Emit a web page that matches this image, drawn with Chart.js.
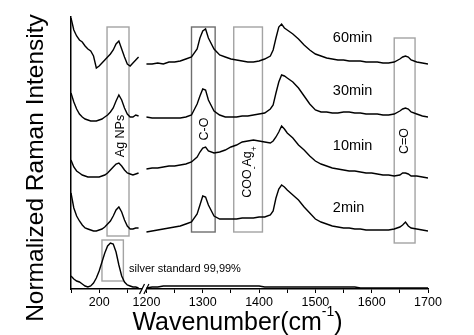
<!DOCTYPE html>
<html>
<head>
<meta charset="utf-8">
<script src="https://cdn.jsdelivr.net/npm/chart.js@4.4.1/dist/chart.umd.min.js"></script>
<style>
  html, body { margin: 0; padding: 0; background: #fff; }
  #wrap { width: 474px; height: 335px; }
</style>
</head>
<body>
<div id="wrap"><canvas id="ramanChart" width="474" height="335"></canvas></div>
<script>
// Raman shift samples (cm-1): low-frequency window and fingerprint window
const lowShift = [150, 155, 160, 165, 170, 175, 180, 185, 190, 195,
                  200, 205, 210, 215, 220, 225, 230, 235, 240, 245,
                  250, 255, 260, 265, 270];
const highShift = [1200, 1210, 1220, 1230, 1240, 1250, 1260, 1270, 1280, 1290,
                   1295, 1300, 1305, 1310, 1320, 1330, 1340, 1350, 1360, 1370,
                   1380, 1390, 1400, 1410, 1420, 1425, 1430, 1435, 1440, 1445,
                   1450, 1460, 1470, 1480, 1490, 1500, 1510, 1520, 1530, 1540,
                   1550, 1560, 1570, 1580, 1590, 1600, 1610, 1620, 1630, 1640,
                   1650, 1655, 1660, 1665, 1670, 1680, 1690, 1700];

// stacked, normalized intensities (arb. units)
const min60Low = [271, 259, 253, 249, 247, 243, 240, 238, 233, 221,
                  223, 226, 229, 232, 235, 239, 245, 248, 240, 232,
                  225, 223, 226, 229, 232];
const min60High = [225, 225, 226, 225, 227, 227, 228, 230, 232, 240,
                   251, 258, 260, 251, 240, 234, 232, 230, 229, 228,
                   227, 227, 228, 230, 233, 239, 251, 262, 265, 261,
                   259, 255, 250, 244, 239, 235, 233, 231, 230, 229,
                   229, 228, 228, 228, 227, 227, 227, 226, 226, 227,
                   230, 232, 233, 232, 229, 227, 226, 225];

const min30Low = [196, 187, 180, 175, 172, 170, 169, 168, 168, 168,
                  169, 170, 172, 174, 177, 181, 188, 194, 189, 181,
                  175, 172, 172, 174, 173];
const min30High = [172, 171, 171, 171, 171, 171, 171, 172, 174, 185,
                   193, 200, 199, 189, 178, 174, 172, 172, 172, 173,
                   173, 174, 175, 176, 180, 184, 196, 207, 214, 213,
                   211, 207, 201, 193, 185, 179, 177, 177, 176, 176,
                   177, 177, 176, 176, 175, 175, 175, 174, 174, 175,
                   178, 180, 181, 180, 177, 175, 173, 172];

const min10Low = [129, 122, 118, 116, 114, 113, 112, 112, 112, 112,
                  112, 113, 114, 116, 119, 122, 125, 126, 123, 119,
                  116, 115, 114, 115, 116];
const min10High = [120, 121, 121, 122, 123, 123, 124, 125, 127, 132,
                   137, 141, 142, 138, 136, 137, 139, 142, 144, 147,
                   148, 149, 148, 147, 146, 148, 152, 157, 163, 160,
                   156, 151, 144, 139, 133, 128, 125, 123, 121, 120,
                   119, 118, 118, 117, 116, 116, 115, 114, 114, 113,
                   114, 116, 116, 115, 113, 113, 112, 111];

const min2Low = [96, 81, 73, 68, 64, 61, 60, 59, 58, 58,
                 59, 60, 62, 65, 68, 73, 79, 82, 77, 69,
                 63, 60, 60, 61, 61];
const min2High = [57, 58, 59, 60, 61, 62, 63, 65, 67, 75,
                  84, 93, 92, 84, 73, 70, 70, 70, 70, 71,
                  71, 71, 72, 72, 74, 78, 91, 100, 104, 102,
                  99, 94, 89, 82, 76, 70, 67, 65, 63, 62,
                  61, 61, 60, 60, 59, 59, 59, 59, 59, 60,
                  62, 64, 67, 63, 61, 60, 59, 58];

const silverLow = [13, 10, 8, 7, 5, 3, 2, 3, 6, 11,
                   18, 27, 36, 43, 46, 45, 37, 24, 13, 7,
                   4, 3, 2, 2, 1];
const silverHigh = [1, 2, 2, 3, 3, 3, 3, 3, 3, 3,
                    3, 3, 3, 3, 3, 3, 3, 3, 3, 3,
                    3, 3, 3, 2, 2, 2, 2, 2, 2, 2,
                    2, 2, 2, 2, 2, 2, 2, 2, 2, 2,
                    2, 2, 2, 1, 1, 1, 1, 1, 1, 1,
                    1, 1, 1, 1, 1, 1, 1, 1];

const timeLabels = ['60min', '30min', '10min', '2min'];
const timeLevels = [251, 198, 143, 81];

const tickShifts = [150, 200, 250, 1200, 1250, 1300, 1350, 1400, 1450, 1500, 1550, 1600, 1650, 1700];
const labelledShifts = [200, 1200, 1300, 1400, 1500, 1600, 1700];

// broken x axis: 150-276 and 1200-1700 share one linear scale
const BREAK_LOW = 276, BREAK_HIGH = 1200, BREAK_GAP = 8;
function axisPos(w) {
    return w <= BREAK_LOW ? w : w - BREAK_HIGH + BREAK_LOW + BREAK_GAP;
}
function shiftFromPos(v) {
    return v <= BREAK_LOW ? v : v + BREAK_HIGH - BREAK_LOW - BREAK_GAP;
}

function buildSeries(low, high) {
    const pts = lowShift.map((w, i) => ({ x: axisPos(w), y: low[i] }));
    pts.push({ x: BREAK_LOW + BREAK_GAP / 2, y: null });
    highShift.forEach((w, i) => pts.push({ x: axisPos(w), y: high[i] }));
    return pts;
}

// marker boxes and their captions
const bands = [
    { from: 214, to: 253, low: 53, high: 262, color: '#a3a3a3', text: 'Ag NPs', at: [238, 153] },
    { from: 205, to: 243, low: 8, high: 49, color: '#a3a3a3' },
    { from: 1280, to: 1322, low: 57, high: 262, color: '#6e6e6e', text: 'C-O', at: [1303, 160] },
    { from: 1355, to: 1406, low: 57, high: 262, color: '#a3a3a3', text: 'COO|-|Ag|+', at: [1380, 117] },
    { from: 1640, to: 1677, low: 46, high: 251, color: '#a3a3a3', text: 'C=O', at: [1659, 148] }
];

const FONT = '"Liberation Sans", Arial, sans-serif';
Chart.defaults.font.family = FONT;

// draws a rotated caption; pieces between '|' alternate body / small side marks
function drawVertical(ctx, text, px, py) {
    const parts = text.split('|');
    ctx.save();
    ctx.translate(px, py);
    ctx.rotate(-Math.PI / 2);
    ctx.textBaseline = 'middle';
    const sizes = parts.map((p, i) => (i % 2 ? 8.5 : 12.5));
    let total = 0;
    parts.forEach((p, i) => { ctx.font = sizes[i] + 'px ' + FONT; total += ctx.measureText(p).width; });
    let cx = -total / 2;
    parts.forEach((p, i) => {
        ctx.font = sizes[i] + 'px ' + FONT;
        ctx.textAlign = 'left';
        ctx.fillText(p, cx, i % 2 ? 7 : 0);
        cx += ctx.measureText(p).width;
    });
    ctx.restore();
}

const annotations = {
    id: 'annotations',
    beforeDatasetsDraw(chart) {
        const { ctx, scales: { x, y } } = chart;
        ctx.save();
        ctx.lineWidth = 1.4;
        bands.forEach(b => {
            const x0 = x.getPixelForValue(axisPos(b.from));
            const x1 = x.getPixelForValue(axisPos(b.to));
            const y0 = y.getPixelForValue(b.high);
            const y1 = y.getPixelForValue(b.low);
            ctx.strokeStyle = b.color;
            ctx.strokeRect(x0, y0, x1 - x0, y1 - y0);
        });
        ctx.restore();
    },
    afterDraw(chart) {
        const { ctx, chartArea, scales: { x, y } } = chart;
        ctx.save();
        ctx.fillStyle = '#000';

        bands.filter(b => b.text).forEach(b => {
            drawVertical(ctx, b.text, x.getPixelForValue(axisPos(b.at[0])), y.getPixelForValue(b.at[1]));
        });

        ctx.font = '14.5px ' + FONT;
        ctx.textAlign = 'left';
        ctx.textBaseline = 'middle';
        timeLabels.forEach((t, i) => {
            ctx.fillText(t, x.getPixelForValue(axisPos(1531)), y.getPixelForValue(timeLevels[i]));
        });

        ctx.font = '11px ' + FONT;
        ctx.fillText('silver standard 99,99%', x.getPixelForValue(axisPos(253)), y.getPixelForValue(20));

        // axis break marks
        const bx = (x.getPixelForValue(axisPos(BREAK_LOW)) + x.getPixelForValue(axisPos(BREAK_HIGH))) / 2;
        const by = chartArea.bottom;
        ctx.fillStyle = '#fff';
        ctx.fillRect(bx - 2, by - 2, 4, 4);
        ctx.strokeStyle = '#000';
        ctx.lineWidth = 1.2;
        [-2.2, 2.2].forEach(dx => {
            ctx.beginPath();
            ctx.moveTo(bx + dx - 2.5, by + 5);
            ctx.lineTo(bx + dx + 2.5, by - 5);
            ctx.stroke();
        });

        // axis titles
        ctx.fillStyle = '#000';
        ctx.save();
        ctx.translate(chartArea.left - 28, (chartArea.top + chartArea.bottom) / 2 + 15);
        ctx.rotate(-Math.PI / 2);
        ctx.font = '24.5px ' + FONT;
        ctx.textAlign = 'center';
        ctx.textBaseline = 'alphabetic';
        ctx.fillText('Normalized Raman Intensity', 0, 0);
        ctx.restore();

        const main = 'Wavenumber(cm', sup = '-1', close = ')';
        ctx.textAlign = 'left';
        ctx.textBaseline = 'alphabetic';
        ctx.font = '25px ' + FONT;
        const wMain = ctx.measureText(main).width, wClose = ctx.measureText(close).width;
        ctx.font = '14px ' + FONT;
        const wSup = ctx.measureText(sup).width;
        let tx = (chartArea.left + chartArea.right) / 2 - 12 - (wMain + wSup + wClose) / 2;
        const ty = chartArea.bottom + 41;
        ctx.font = '25px ' + FONT;
        ctx.fillText(main, tx, ty);
        tx += wMain;
        ctx.font = '14px ' + FONT;
        ctx.fillText(sup, tx, ty - 14);
        tx += wSup;
        ctx.font = '25px ' + FONT;
        ctx.fillText(close, tx, ty);
        ctx.restore();
    }
};

const series = [
    buildSeries(min60Low, min60High),
    buildSeries(min30Low, min30High),
    buildSeries(min10Low, min10High),
    buildSeries(min2Low, min2High),
    buildSeries(silverLow, silverHigh)
];

new Chart(document.getElementById('ramanChart'), {
    type: 'line',
    data: {
        datasets: series.map((pts, i) => ({
            label: i < 4 ? timeLabels[i] : 'silver standard',
            data: pts,
            borderColor: '#000',
            borderWidth: 1.4,
            pointRadius: 0,
            tension: 0,
            spanGaps: false
        }))
    },
    options: {
        responsive: false,
        animation: false,
        devicePixelRatio: 1,
        layout: { padding: { top: 17, right: 46, left: 0, bottom: 0 } },
        plugins: { legend: { display: false }, tooltip: { enabled: false } },
        scales: {
            x: {
                type: 'linear',
                min: axisPos(150),
                max: axisPos(1700),
                afterBuildTicks: s => { s.ticks = tickShifts.map(w => ({ value: axisPos(w) })); },
                afterFit: s => { s.height = 46; },
                ticks: {
                    autoSkip: false,
                    maxRotation: 0,
                    padding: 2,
                    color: '#000',
                    font: { size: 12.5 },
                    callback: v => {
                        const w = Math.round(shiftFromPos(v));
                        return labelledShifts.includes(w) ? String(w) : '';
                    }
                },
                grid: { drawOnChartArea: false, tickLength: 4, tickColor: '#000', tickWidth: 1 },
                border: { color: '#000', width: 1.5 }
            },
            y: {
                min: 0,
                max: 272,
                afterFit: s => { s.width = 71; },
                ticks: { display: false },
                grid: { display: false },
                border: { display: true, color: '#000', width: 1.5 }
            }
        }
    },
    plugins: [annotations]
});
</script>
</body>
</html>
